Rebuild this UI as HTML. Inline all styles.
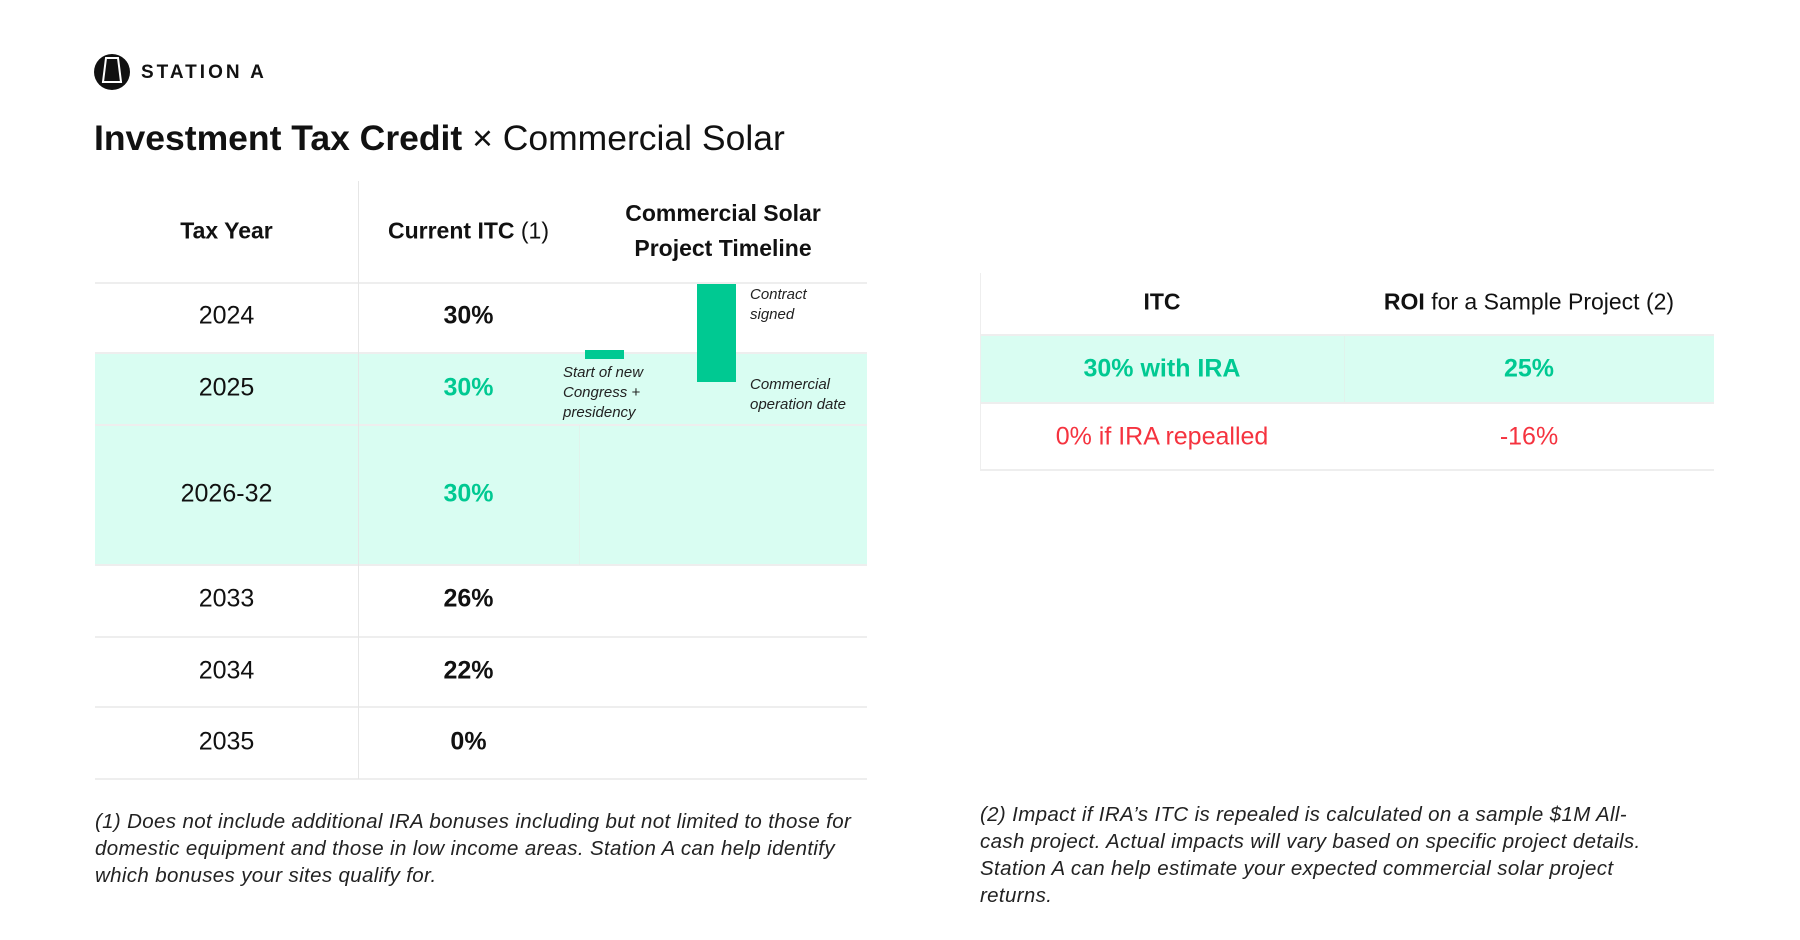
<!DOCTYPE html>
<html><head><meta charset="utf-8"><style>
*{margin:0;padding:0;box-sizing:border-box}
body{width:1800px;height:940px;background:#fff;position:relative;overflow:hidden;font-family:"Liberation Sans",sans-serif;color:#111}
.a{position:absolute}
.c{position:absolute;text-align:center;transform:translateY(-50%)}
.hl{position:absolute;height:2px;background:#eee}
.vl{position:absolute;width:1px;background:#e6e6e6}
.teal{position:absolute;background:#d9fdf2}
.it{position:absolute;font-style:italic;font-size:15px;line-height:20px;color:#222}
.fn{position:absolute;font-style:italic;font-size:20.5px;letter-spacing:0.35px;line-height:27px;color:#222;white-space:nowrap}
.g{color:#00c992}.r{color:#f5333f}
</style></head><body>
<svg class="a" style="left:94px;top:54px" width="36" height="36" viewBox="0 0 36 36"><circle cx="18" cy="18" r="18" fill="#111"/><path d="M12 4 L24 4 L27 28 L9 28 Z" fill="none" stroke="#fff" stroke-width="2"/><rect x="8" y="27" width="20" height="2" fill="#fff"/></svg>
<div class="a" style="left:141px;top:62px;font-size:19px;font-weight:bold;letter-spacing:3px">STATION A</div>
<div class="a" style="left:94px;top:118px;font-size:35.5px"><b>Investment Tax Credit</b> × Commercial Solar</div>

<div class="teal" style="left:95px;top:353px;width:772px;height:212px"></div>
<div class="hl" style="left:95px;top:282px;width:772px"></div>
<div class="hl" style="left:95px;top:352px;width:772px"></div>
<div class="hl" style="left:95px;top:424px;width:772px"></div>
<div class="hl" style="left:95px;top:564px;width:772px"></div>
<div class="hl" style="left:95px;top:636px;width:772px"></div>
<div class="hl" style="left:95px;top:706px;width:772px"></div>
<div class="hl" style="left:95px;top:778px;width:772px"></div>
<div class="vl" style="left:358px;top:181px;height:598px"></div>
<div class="vl" style="left:579px;top:425px;height:140px;background:#e0f3ec"></div>

<div class="c" style="left:95px;width:263px;top:231px;font-size:23px;font-weight:bold">Tax Year</div>
<div class="c" style="left:358px;width:221px;top:231px;font-size:23px"><b>Current ITC</b> (1)</div>
<div class="c" style="left:579px;width:288px;top:231px;font-size:23px;font-weight:bold;line-height:35px">Commercial Solar<br>Project Timeline</div>

<div class="c" style="left:95px;width:263px;top:316px;font-size:25px">2024</div>
<div class="c" style="left:95px;width:263px;top:388px;font-size:25px">2025</div>
<div class="c" style="left:95px;width:263px;top:494px;font-size:25px">2026-32</div>
<div class="c" style="left:95px;width:263px;top:599px;font-size:25px">2033</div>
<div class="c" style="left:95px;width:263px;top:671px;font-size:25px">2034</div>
<div class="c" style="left:95px;width:263px;top:742px;font-size:25px">2035</div>

<div class="c" style="left:358px;width:221px;top:316px;font-size:25px;font-weight:bold">30%</div>
<div class="c g" style="left:358px;width:221px;top:388px;font-size:25px;font-weight:bold">30%</div>
<div class="c g" style="left:358px;width:221px;top:494px;font-size:25px;font-weight:bold">30%</div>
<div class="c" style="left:358px;width:221px;top:599px;font-size:25px;font-weight:bold">26%</div>
<div class="c" style="left:358px;width:221px;top:671px;font-size:25px;font-weight:bold">22%</div>
<div class="c" style="left:358px;width:221px;top:742px;font-size:25px;font-weight:bold">0%</div>

<div class="a" style="left:585px;top:350px;width:39px;height:9px;background:#00c992"></div>
<div class="a" style="left:697px;top:284px;width:39px;height:98px;background:#00c992"></div>
<div class="it" style="left:750px;top:285px">Contract<br>signed</div>
<div class="it" style="left:750px;top:375px">Commercial<br>operation date</div>
<div class="it" style="left:563px;top:363px">Start of new<br>Congress +<br>presidency</div>

<div class="fn" style="left:95px;top:808px">(1) Does not include additional IRA bonuses including but not limited to those for<br>domestic equipment and those in low income areas. Station A can help identify<br>which bonuses your sites qualify for.</div>

<div class="teal" style="left:980px;top:335px;width:734px;height:68px"></div>
<div class="vl" style="left:980px;top:273px;height:197px;background:#eee"></div>
<div class="vl" style="left:1344px;top:335px;height:68px;background:#e0f3ec"></div>
<div class="hl" style="left:980px;top:334px;width:734px"></div>
<div class="hl" style="left:980px;top:402px;width:734px"></div>
<div class="hl" style="left:980px;top:469px;width:734px"></div>
<div class="c" style="left:980px;width:364px;top:302px;font-size:23px;font-weight:bold">ITC</div>
<div class="c" style="left:1344px;width:370px;top:302px;font-size:23px"><b>ROI</b> for a Sample Project (2)</div>
<div class="c g" style="left:980px;width:364px;top:369px;font-size:25px;font-weight:bold">30% with IRA</div>
<div class="c g" style="left:1344px;width:370px;top:369px;font-size:25px;font-weight:bold">25%</div>
<div class="c r" style="left:980px;width:364px;top:437px;font-size:25px">0% if IRA repealled</div>
<div class="c r" style="left:1344px;width:370px;top:437px;font-size:25px">-16%</div>

<div class="fn" style="left:980px;top:801px">(2) Impact if IRA’s ITC is repealed is calculated on a sample $1M All-<br>cash project. Actual impacts will vary based on specific project details.<br>Station A can help estimate your expected commercial solar project<br>returns.</div>
</body></html>
